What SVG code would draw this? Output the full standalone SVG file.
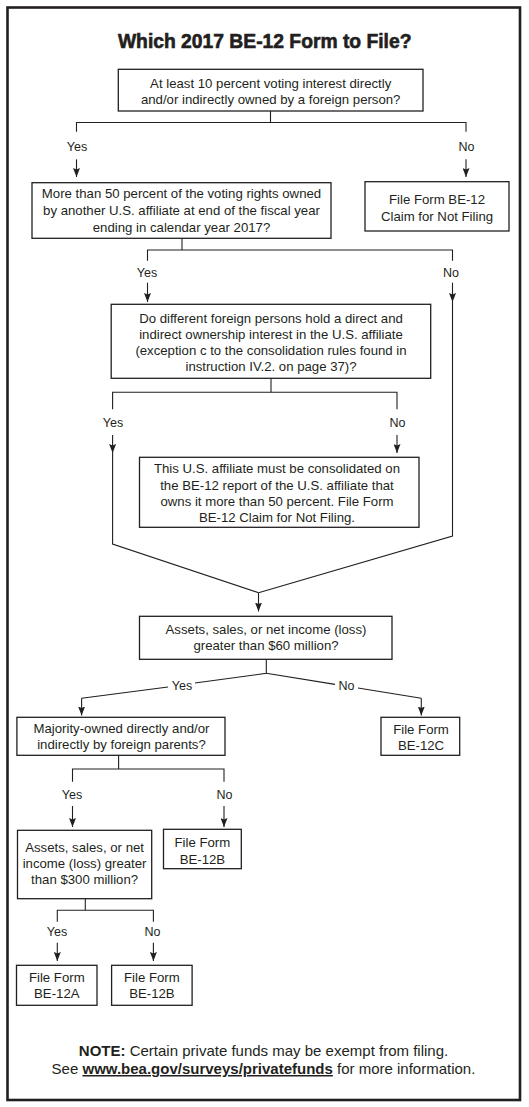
<svg xmlns="http://www.w3.org/2000/svg" width="529" height="1107" viewBox="0 0 529 1107">
<defs>
<marker id="arr" viewBox="0 0 9 7" refX="9" refY="3.5" markerWidth="9" markerHeight="7" markerUnits="userSpaceOnUse" orient="auto">
<path d="M0,0 L9,3.5 L0,7 L1.5,3.5 Z" fill="#231f20"/>
</marker>
</defs>
<style>
.box{fill:#fff;stroke:#231f20;stroke-width:1.3}
.t{font-family:"Liberation Sans",Arial,sans-serif;font-size:13.2px;fill:#231f20;text-anchor:middle}
.lbl{font-family:"Liberation Sans",Arial,sans-serif;font-size:12.5px;fill:#231f20;text-anchor:middle}
.ln{fill:none;stroke:#231f20;stroke-width:1.1}
.ar{fill:none;stroke:#231f20;stroke-width:1.1;marker-end:url(#arr)}
</style>
<rect x="0" y="0" width="529" height="1107" fill="#fff"/>
<rect x="7.5" y="7.5" width="512.5" height="1092.5" fill="none" stroke="#231f20" stroke-width="2.6"/>
<text x="264.7" y="48.3" style="font-family:'Liberation Sans',Arial,sans-serif;font-weight:bold;font-size:19.3px;fill:#231f20;stroke:#231f20;stroke-width:0.6;text-anchor:middle">Which 2017 BE-12 Form to File?</text>

<g id="connectors">
<polyline class="ln" points="270.5,111 270.5,122.5"/>
<polyline class="ln" points="76.5,131.7 76.5,122.5 466,122.5 466,131.7"/>
<line class="ar" x1="76.5" y1="159.3" x2="76.5" y2="177"/>
<line class="ar" x1="466" y1="159.3" x2="466" y2="177"/>
<polyline class="ln" points="182,238.3 182,250"/>
<polyline class="ln" points="147.5,260.7 147.5,250 452.5,250 452.5,260.7"/>
<line class="ar" x1="147.5" y1="282.7" x2="147.5" y2="302"/>
<line class="ar" x1="452.5" y1="282.7" x2="452.5" y2="302"/>
<polyline class="ln" points="452.5,302 452.5,536 258.5,592.7"/>
<polyline class="ln" points="271,378.3 271,392.3"/>
<polyline class="ln" points="112.6,409.3 112.6,392.3 397,392.3 397,409.3"/>
<line class="ar" x1="112.6" y1="435" x2="112.6" y2="453"/>
<line class="ar" x1="397" y1="435" x2="397" y2="453"/>
<polyline class="ln" points="112.6,453 112.6,544 258.5,592.7"/>
<line class="ar" x1="258.5" y1="592.7" x2="258.5" y2="611.5"/>
<polyline class="ln" points="266.3,659.3 266.3,673.3 195,683"/>
<polyline class="ln" points="168,687 81.6,698.3"/>
<line class="ar" x1="81.6" y1="698.3" x2="81.6" y2="715.5"/>
<polyline class="ln" points="266.3,673.3 335,684.4"/>
<polyline class="ln" points="358,688 421.3,698.3"/>
<line class="ar" x1="421.3" y1="698.3" x2="421.3" y2="715.5"/>
<polyline class="ln" points="118.6,755.3 118.6,769"/>
<polyline class="ln" points="72.5,781.7 72.5,769 224,769 224,781.7"/>
<line class="ar" x1="72.5" y1="806" x2="72.5" y2="827"/>
<line class="ar" x1="224" y1="806" x2="224" y2="827"/>
<polyline class="ln" points="85.3,898.7 85.3,910.3"/>
<polyline class="ln" points="57.3,921.7 57.3,910.3 153.4,910.3 153.4,921.7"/>
<line class="ar" x1="57.3" y1="942.7" x2="57.3" y2="961"/>
<line class="ar" x1="153.4" y1="942.7" x2="153.4" y2="961"/>
<text class="lbl" x="77" y="150.7">Yes</text>
<text class="lbl" x="466.5" y="150.7">No</text>
<text class="lbl" x="147" y="276.7">Yes</text>
<text class="lbl" x="451" y="276.7">No</text>
<text class="lbl" x="113" y="426.7">Yes</text>
<text class="lbl" x="397.5" y="426.7">No</text>
<text class="lbl" x="182" y="689.5">Yes</text>
<text class="lbl" x="346.5" y="689.5">No</text>
<text class="lbl" x="72" y="799.3">Yes</text>
<text class="lbl" x="224.5" y="799.3">No</text>
<text class="lbl" x="57" y="935.7">Yes</text>
<text class="lbl" x="152.5" y="935.7">No</text>
</g>

<g id="n1">
<rect class="box" x="118.3" y="69.3" width="304.7" height="41.7"/>
<text class="t" x="270.7" y="87.5">At least 10 percent voting interest directly</text>
<text class="t" x="270.7" y="104">and/or indirectly owned by a foreign person?</text>
</g>
<g id="n2">
<rect class="box" x="32" y="182.7" width="299" height="55.6"/>
<text class="t" x="181.5" y="198.3">More than 50 percent of the voting rights owned</text>
<text class="t" x="181.5" y="215">by another U.S. affiliate at end of the fiscal year</text>
<text class="t" x="181.5" y="231.7">ending in calendar year 2017?</text>
</g>
<g id="n3">
<rect class="box" x="365" y="181.7" width="144" height="49.3"/>
<text class="t" x="437" y="204">File Form BE-12</text>
<text class="t" x="437" y="220.7">Claim for Not Filing</text>
</g>
<g id="n4">
<rect class="box" x="111.2" y="304.3" width="319.5" height="74"/>
<text class="t" x="271" y="323.3">Do different foreign persons hold a direct and</text>
<text class="t" x="271" y="339.3">indirect ownership interest in the U.S. affiliate</text>
<text class="t" x="271" y="355.3">(exception c to the consolidation rules found in</text>
<text class="t" x="271" y="371.3">instruction IV.2. on page 37)?</text>
</g>
<g id="n5">
<rect class="box" x="139.5" y="457.3" width="279.5" height="70"/>
<text class="t" x="277" y="473.3">This U.S. affiliate must be consolidated on</text>
<text class="t" x="277" y="489.5">the BE-12 report of the U.S. affiliate that</text>
<text class="t" x="277" y="505.7">owns it more than 50 percent. File Form</text>
<text class="t" x="277" y="521.9">BE-12 Claim for Not Filing.</text>
</g>
<g id="n6">
<rect class="box" x="139.5" y="616.3" width="252.5" height="43"/>
<text class="t" x="266" y="634">Assets, sales, or net income (loss)</text>
<text class="t" x="266" y="650">greater than $60 million?</text>
</g>
<g id="n7">
<rect class="box" x="16.9" y="717.3" width="208.1" height="38"/>
<text class="t" x="121.5" y="733.3">Majority-owned directly and/or</text>
<text class="t" x="121.5" y="749">indirectly by foreign parents?</text>
</g>
<g id="n8">
<rect class="box" x="381" y="717.3" width="78.7" height="38"/>
<text class="t" x="421" y="734">File Form</text>
<text class="t" x="421" y="750">BE-12C</text>
</g>
<g id="n9">
<rect class="box" x="17.5" y="830.3" width="134.2" height="68.4"/>
<text class="t" x="84.6" y="851.7">Assets, sales, or net</text>
<text class="t" x="84.6" y="867.7">income (loss) greater</text>
<text class="t" x="84.6" y="883.5">than $300 million?</text>
</g>
<g id="n10">
<rect class="box" x="163.5" y="829.3" width="77.8" height="39.4"/>
<text class="t" x="202.4" y="846.7">File Form</text>
<text class="t" x="202.4" y="863.7">BE-12B</text>
</g>
<g id="n11">
<rect class="box" x="16.5" y="965.3" width="80.5" height="40"/>
<text class="t" x="56.8" y="981.7">File Form</text>
<text class="t" x="56.8" y="998.3">BE-12A</text>
</g>
<g id="n12">
<rect class="box" x="111.6" y="965.3" width="80.5" height="40"/>
<text class="t" x="151.9" y="981.7">File Form</text>
<text class="t" x="151.9" y="998.3">BE-12B</text>
</g>
<g id="note" style="font-family:'Liberation Sans',Arial,sans-serif;font-size:15px;fill:#231f20">
<text x="263.5" y="1056" text-anchor="middle"><tspan font-weight="bold">NOTE:</tspan> Certain private funds may be exempt from filing.</text>
<text x="263.5" y="1074" text-anchor="middle">See <tspan font-weight="bold" text-decoration="underline">www.bea.gov/surveys/privatefunds</tspan> for more information.</text>
</g>
</svg>
